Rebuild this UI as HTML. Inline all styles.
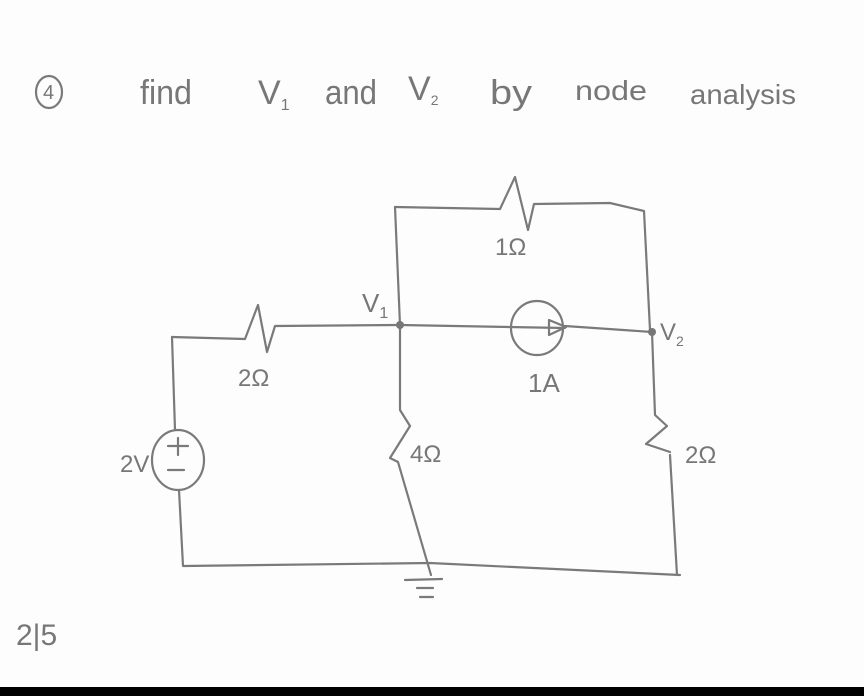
<!DOCTYPE html>
<html><head><meta charset="utf-8"><style>
html,body{margin:0;padding:0;background:#fdfdfd;}
svg{display:block}
text{font-family:"Liberation Sans",sans-serif;fill:#777;}
</style></head><body>
<svg width="864" height="696" viewBox="0 0 864 696" xmlns="http://www.w3.org/2000/svg">
<rect width="864" height="696" fill="#fdfdfd"/>
<g fill="none" stroke="#7a7a7a" stroke-width="2.2" stroke-linejoin="round" stroke-linecap="round">
<ellipse cx="49" cy="92" rx="13" ry="16"/>
<polyline points="172,337 245,339 258,305 267,352 275,326 398,325"/>
<polyline points="172,337 175,430"/>
<ellipse cx="178" cy="460" rx="26" ry="30"/>
<polyline points="179,490 183,566 430,563 680,575"/>
<line x1="405" y1="580" x2="442" y2="579"/>
<line x1="417" y1="588" x2="433" y2="588"/>
<line x1="420" y1="597" x2="433" y2="597"/>
<polyline points="395,207 400,325 400,410 410,426 390,458 398,462 431,575"/>
<polyline points="395,207 500,209 515,177 528,230 534,204 610,203 644,211 650,330"/>
<ellipse cx="537" cy="328" rx="26" ry="27"/>
<polyline points="400,325 565,328"/>
<polygon points="549,320 566,327 549,335"/>
<polyline points="565,326 652,332"/>
<polyline points="652,332 655,415 667,426 646,444 670,452"/>
<polyline points="670,455 677,575"/>
<line x1="168" y1="446" x2="188" y2="446"/>
<line x1="178" y1="438" x2="178" y2="455"/>
<line x1="168" y1="470" x2="184" y2="470"/>
</g>
<circle cx="400" cy="325" r="4" fill="#777"/>
<circle cx="652" cy="332" r="4" fill="#777"/>
<text x="43" y="99" font-size="20">4</text>
<g font-size="34">
<text x="140" y="104" textLength="52" lengthAdjust="spacingAndGlyphs">find</text>
<text x="258" y="104">V<tspan font-size="16" dy="6">1</tspan></text>
<text x="325" y="104" textLength="52" lengthAdjust="spacingAndGlyphs">and</text>
<text x="408" y="100">V<tspan font-size="14" dy="5">2</tspan></text>
<text x="490" y="104" textLength="42" lengthAdjust="spacingAndGlyphs">by</text>
<text x="575" y="100" font-size="28" textLength="72" lengthAdjust="spacingAndGlyphs">node</text>
<text x="690" y="104" font-size="28" textLength="106" lengthAdjust="spacingAndGlyphs">analysis</text>
</g>
<text x="362" y="312" font-size="26">V<tspan font-size="16" dy="6">1</tspan></text>
<text x="660" y="340" font-size="24">V<tspan font-size="14" dy="6">2</tspan></text>
<text x="495" y="255" font-size="24">1Ω</text>
<text x="528" y="392" font-size="26">1A</text>
<text x="238" y="386" font-size="24">2Ω</text>
<text x="410" y="462" font-size="24">4Ω</text>
<text x="685" y="463" font-size="24">2Ω</text>
<text x="120" y="472" font-size="24">2V</text>
<text x="16" y="645" font-size="30">2|5</text>
<rect x="0" y="687" width="864" height="9" fill="#000"/>
</svg>
</body></html>
